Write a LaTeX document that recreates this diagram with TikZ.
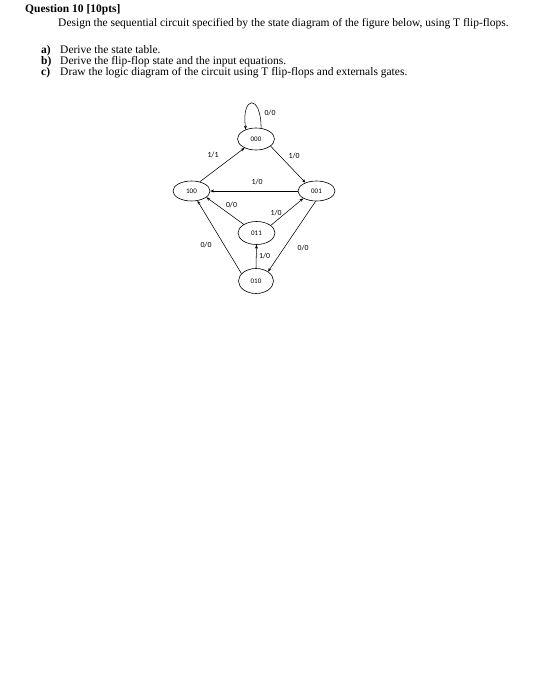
\documentclass[tikz,border=0pt]{standalone}
\usepackage{fontspec}
\setmainfont{Liberation Serif}
\newfontfamily\lblfont{Carlito}
\usetikzlibrary{shapes.geometric,arrows.meta}
\begin{document}
\begin{tikzpicture}[x=1pt,y=-1pt,
  st/.style={ellipse,draw,line width=0.6pt,minimum width=37pt,minimum height=22pt,inner sep=0pt,font=\lblfont\fontsize{7}{8}\selectfont},
  arr/.style={-{Stealth[length=3.8pt,width=3pt]},line width=0.55pt},
  lbl/.style={font=\lblfont\fontsize{7.8}{9}\selectfont,inner sep=0pt},
  txt/.style={anchor=base west,inner sep=0pt,font=\fontsize{11.5}{13}\selectfont},
  btxt/.style={txt,font=\bfseries\fontsize{11.5}{13}\selectfont}]
\useasboundingbox (0,0) rectangle (535,700);
\fill[white] (0,0) rectangle (535,700);
% text
\node[btxt] (q) at (25,13) {Question 10 [10pts]};
\node[txt] (d) at (58,26.5) {Design the sequential circuit specified by the state diagram of the figure below, using T flip-flops.};
\node[btxt] (la) at (41,54) {a)};
\node[txt] (ta) at (60,54) {Derive the state table.};
\node[btxt] (lb) at (41,65) {b)};
\node[txt] (tb) at (60,65) {Derive the flip-flop state and the input equations.};
\node[btxt] (lc) at (41,76) {c)};
\node[txt] (tc) at (60,76) {Draw the logic diagram of the circuit using T flip-flops and externals gates.};
% states
\node[st] (s000) at (256,139) {000};
\node[st,minimum height=20pt] (s100) at (191.5,191) {100};
\node[st,minimum height=20pt] (s001) at (316.5,191) {001};
\node[st,minimum height=23pt] (s011) at (256.5,233) {011};
\node[st,minimum width=35pt,minimum height=25pt] (s010) at (256,281) {010};
% self loop
\draw[arr] (s000.65) .. controls (261,93) and (241,96) .. (s000.137);
\node[lbl] (l0) at (270,113) {0/0};
% edges
\draw[arr] (s100.48) -- (s000.218);
\node[lbl] (l1) at (213,155) {1/1};
\draw[arr] (s000.-26) -- (s001.143);
\node[lbl] (l2) at (294,156) {1/0};
\draw[arr] (s001.west) -- (s100.east);
\node[lbl] (l3) at (257,181.5) {1/0};
\draw[arr] (s011.146) -- (s100.-23);
\node[lbl] (l4) at (231.5,205) {0/0};
\draw[arr] (s011.28) -- (s001.-151);
\node[lbl] (l5) at (276,213) {1/0};
\draw[arr] (s010.153) -- (s100.-59);
\node[lbl] (l6) at (206,245) {0/0};
\draw[arr] (s001.-95) -- (s010.38);
\node[lbl] (l7) at (303,248) {0/0};
\draw[arr] (s010.north) -- (s011.south);
\node[lbl] (l8) at (264.5,256) {1/0};
\end{tikzpicture}
\end{document}
